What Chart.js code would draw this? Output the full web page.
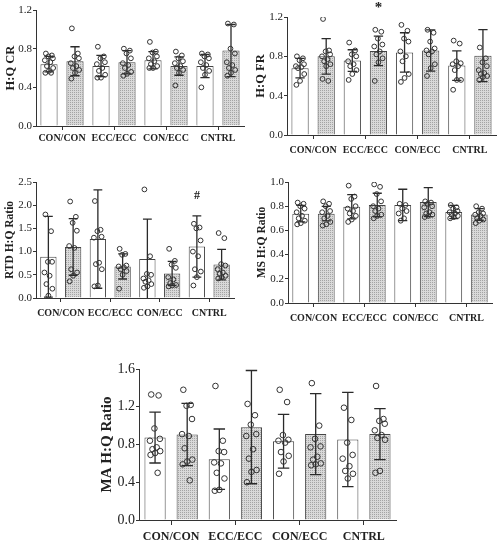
<!DOCTYPE html>
<html>
<head>
<meta charset="utf-8">
<script src="https://cdn.jsdelivr.net/npm/chart.js@4"></script>
<style>
  body { margin: 0; background: #fff; }
  .p { position: absolute; }
</style>
</head>
<body>
<div class="p" style="left:0;top:0;width:250px;height:150px"><canvas id="cr"></canvas></div>
<div class="p" style="left:250px;top:0;width:252px;height:160px"><canvas id="fr"></canvas></div>
<div class="p" style="left:0;top:150px;width:250px;height:175px"><canvas id="rtd"></canvas></div>
<div class="p" style="left:250px;top:150px;width:252px;height:180px"><canvas id="ms"></canvas></div>
<div class="p" style="left:90px;top:340px;width:312px;height:210px"><canvas id="ma"></canvas></div>
<script>
const groups = ['CON/CON', 'ECC/ECC', 'CON/ECC', 'CNTRL']

// bars in plot order: white, dotted, white, dotted ...
const crMean = [0.64, 0.67, 0.62, 0.66, 0.68, 0.62, 0.62, 0.78]
const crSd = [0.08, 0.15, 0.11, 0.12, 0.09, 0.095, 0.12, 0.27]
const crPts = [
    [0.75, 0.73, 0.72, 0.70, 0.68, 0.66, 0.62, 0.60, 0.57, 0.55, 0.55],
    [1.01, 0.75, 0.72, 0.70, 0.65, 0.62, 0.60, 0.58, 0.55, 0.49],
    [0.82, 0.72, 0.70, 0.66, 0.64, 0.60, 0.57, 0.53, 0.50, 0.50],
    [0.80, 0.78, 0.75, 0.70, 0.65, 0.63, 0.60, 0.56, 0.54, 0.52],
    [0.87, 0.77, 0.76, 0.72, 0.70, 0.67, 0.64, 0.62, 0.60, 0.60],
    [0.77, 0.73, 0.70, 0.67, 0.65, 0.62, 0.60, 0.58, 0.55, 0.42],
    [0.75, 0.74, 0.72, 0.70, 0.66, 0.63, 0.60, 0.57, 0.53, 0.40],
    [1.06, 1.05, 0.80, 0.75, 0.66, 0.63, 0.60, 0.58, 0.55, 0.52],
]

const frMean = [0.68, 0.80, 0.757, 0.855, 0.84, 0.86, 0.706, 0.807]
const frSd = [0.10, 0.18, 0.11, 0.15, 0.20, 0.21, 0.15, 0.265]
const frPts = [
    [0.80, 0.78, 0.76, 0.72, 0.70, 0.69, 0.68, 0.62, 0.55, 0.51],
    [1.18, 0.86, 0.85, 0.82, 0.80, 0.77, 0.75, 0.72, 0.70, 0.57, 0.55],
    [0.94, 0.86, 0.82, 0.80, 0.75, 0.72, 0.70, 0.66, 0.62, 0.56],
    [1.07, 1.05, 0.98, 0.92, 0.90, 0.85, 0.82, 0.78, 0.74, 0.55],
    [1.12, 1.06, 0.98, 0.95, 0.85, 0.80, 0.75, 0.62, 0.58, 0.54],
    [1.07, 1.04, 0.95, 0.88, 0.86, 0.85, 0.82, 0.72, 0.68, 0.60],
    [0.96, 0.93, 0.75, 0.73, 0.72, 0.70, 0.66, 0.56, 0.56, 0.46],
    [0.89, 0.78, 0.74, 0.70, 0.66, 0.63, 0.62, 0.60, 0.59, 0.56],
]

const rtdMean = [0.89, 1.10, 1.27, 0.68, 0.84, 0.53, 1.11, 0.72]
const rtdSd = [0.87, 0.61, 1.06, 0.27, 0.86, 0.26, 0.66, 0.33]
const rtdPts = [
    [1.80, 1.44, 0.78, 0.78, 0.55, 0.48, 0.30, 0.20, 0.05],
    [2.08, 1.75, 1.62, 1.45, 1.12, 1.08, 0.62, 0.55, 0.48, 0.36],
    [2.09, 1.47, 1.44, 1.32, 1.30, 0.76, 0.73, 0.62, 0.27, 0.25],
    [1.06, 0.95, 0.93, 0.70, 0.68, 0.66, 0.62, 0.58, 0.50, 0.20],
    [2.34, 0.90, 0.52, 0.50, 0.42, 0.38, 0.35, 0.30, 0.25, 0.22],
    [1.06, 0.80, 0.72, 0.65, 0.45, 0.40, 0.32, 0.28, 0.27, 0.25],
    [1.60, 1.52, 1.50, 1.24, 1.00, 0.90, 0.62, 0.57, 0.45, 0.27],
    [1.40, 1.29, 0.73, 0.70, 0.62, 0.55, 0.52, 0.48, 0.45, 0.42],
]

const msMean = [0.738, 0.738, 0.795, 0.81, 0.81, 0.834, 0.752, 0.732]
const msSd = [0.068, 0.06, 0.10, 0.097, 0.13, 0.12, 0.054, 0.048]
const msPts = [
    [0.83, 0.82, 0.80, 0.78, 0.75, 0.72, 0.70, 0.68, 0.66, 0.65],
    [0.84, 0.82, 0.80, 0.76, 0.75, 0.72, 0.70, 0.67, 0.65, 0.64],
    [0.97, 0.88, 0.86, 0.80, 0.78, 0.76, 0.74, 0.72, 0.69, 0.67],
    [0.98, 0.96, 0.90, 0.84, 0.80, 0.78, 0.76, 0.73, 0.72, 0.70],
    [0.82, 0.81, 0.78, 0.76, 0.74, 0.70, 0.68],
    [0.84, 0.83, 0.82, 0.80, 0.79, 0.75, 0.74, 0.73, 0.72, 0.71],
    [0.81, 0.79, 0.78, 0.76, 0.75, 0.74, 0.73, 0.72, 0.71, 0.70],
    [0.80, 0.78, 0.75, 0.74, 0.73, 0.72, 0.70, 0.69, 0.68, 0.66],
]

const maMean = [0.874, 0.906, 0.644, 0.984, 0.835, 0.91, 0.853, 0.91]
const maSd = [0.27, 0.33, 0.32, 0.60, 0.285, 0.43, 0.50, 0.27]
const maPts = [
    [1.33, 1.32, 0.97, 0.86, 0.84, 0.77, 0.75, 0.73, 0.71, 0.69, 0.50],
    [1.38, 1.22, 1.21, 1.07, 0.91, 0.89, 0.76, 0.64, 0.62, 0.59, 0.42],
    [1.42, 0.84, 0.73, 0.72, 0.61, 0.60, 0.50, 0.44, 0.32, 0.31],
    [1.23, 1.11, 1.01, 0.91, 0.89, 0.75, 0.65, 0.53, 0.51, 0.40],
    [1.38, 1.25, 0.90, 0.85, 0.84, 0.82, 0.72, 0.68, 0.62, 0.49],
    [1.45, 1.00, 0.86, 0.78, 0.77, 0.67, 0.64, 0.60, 0.59, 0.58],
    [1.19, 1.06, 0.82, 0.69, 0.65, 0.57, 0.52, 0.49, 0.44],
    [1.42, 1.07, 1.05, 1.02, 0.95, 0.90, 0.87, 0.85, 0.52, 0.50],
]

// horizontal spread of the dots inside a bar (in bar-slot units)
const jitter = [-0.12, 0.11, -0.02, 0.15, -0.16, 0.05, -0.08, 0.16, 0.0, -0.14, 0.08]

const serif = 'Liberation Serif'
const ink = '#222'

function dots() {
    const c = document.createElement('canvas')
    c.width = 2; c.height = 2
    const g = c.getContext('2d')
    g.fillStyle = '#d9d9d9'; g.fillRect(0, 0, 2, 2)
    g.fillStyle = '#a4a4a4'; g.fillRect(0, 0, 1, 1)
    return g.createPattern(c, 'repeat')
}

const errorBars = {
    id: 'errorBars',
    afterDatasetDraw(chart, args) {
        const ds = chart.data.datasets[args.index]
        if (!ds.sd) return
        const y = chart.scales.y, ctx = chart.ctx
        ctx.save()
        ctx.strokeStyle = '#2a2a2a'
        ctx.lineWidth = 1.3
        args.meta.data.forEach((bar, i) => {
            const m = ds.mean[i], s = ds.sd[i]
            const top = y.getPixelForValue(m + s)
            const bot = y.getPixelForValue(Math.max(m - s, y.min))
            const w = bar.width * 0.27
            ctx.beginPath()
            ctx.moveTo(bar.x, top); ctx.lineTo(bar.x, bot)
            ctx.moveTo(bar.x - w, top); ctx.lineTo(bar.x + w, top)
            if (m - s > y.min) { ctx.moveTo(bar.x - w, bot); ctx.lineTo(bar.x + w, bot) }
            ctx.stroke()
        })
        ctx.restore()
    }
}

const marks = {
    id: 'marks',
    afterDraw(chart) {
        const m = chart.options.plugins.marks
        if (!m || !m.text) return
        const bar = chart.getDatasetMeta(0).data[m.bar]
        const ctx = chart.ctx
        ctx.save()
        ctx.font = 'bold ' + m.size + 'px ' + serif
        ctx.fillStyle = ink
        ctx.textAlign = 'center'
        ctx.textBaseline = 'middle'
        ctx.fillText(m.text, bar.x, chart.scales.y.getPixelForValue(m.value))
        ctx.restore()
    }
}

function panel(id, c) {
    const pattern = dots()
    const pts = []
    c.pts.forEach((list, b) => list.forEach((v, k) => {
        pts.push({ x: b + 0.5 + jitter[k % jitter.length], y: v })
    }))
    new Chart(document.getElementById(id), {
        type: 'bar',
        data: {
            labels: groups,
            datasets: [
                { data: c.mean.map((v, i) => ({ x: i + 0.5, y: v })), mean: c.mean, sd: c.sd,
                  backgroundColor: c.mean.map((v, i) => i % 2 ? pattern : '#fff'),
                  borderColor: '#444', borderWidth: 1, grouped: false,
                  categoryPercentage: 1, barPercentage: 0.66, order: 1 },
                { type: 'scatter', data: pts, order: 0,
                  pointRadius: c.r, pointBorderWidth: 1, pointBorderColor: '#333',
                  pointBackgroundColor: 'rgba(0,0,0,0)' },
            ]
        },
        options: {
            responsive: true,
            maintainAspectRatio: false,
            animation: false,
            layout: { padding: { top: c.top, right: c.right, left: 0, bottom: 0 } },
            plugins: { legend: { display: false }, tooltip: { enabled: false }, marks: c.mark || {} },
            scales: {
                x: { type: 'linear', min: 0, max: 8, offset: false, display: false, ticks: { stepSize: 1 } },
                xg: {
                    type: 'category',
                    position: 'bottom',
                    offset: true,
                    grid: { offset: false, drawOnChartArea: false, tickLength: c.xTick, color: '#333' },
                    border: { color: '#333', width: 1 },
                    ticks: { font: { family: serif, weight: 'bold', size: c.catSize }, color: ink,
                             padding: c.xPad, maxRotation: 0, autoSkip: false },
                    afterFit: s => { s.height = c.xh }
                },
                y: {
                    min: 0, max: c.max,
                    grid: { drawOnChartArea: false, tickLength: 3, color: '#333' },
                    border: { color: '#333', width: 1 },
                    ticks: { stepSize: c.step, callback: v => v.toFixed(1),
                             font: { family: serif, size: c.tickSize }, color: ink, padding: 1 },
                    title: { display: true, text: c.title, color: ink,
                             font: { family: serif, weight: 'bold', size: c.titleSize },
                             padding: { top: c.titlePad, bottom: 0 } },
                    afterFit: s => { s.width = c.yw }
                }
            }
        },
        plugins: [errorBars, marks]
    })
}

panel('cr', { mean: crMean, sd: crSd, pts: crPts, max: 1.2, step: 0.4, title: 'H:Q CR',
    top: 10, right: 6, yw: 36, xh: 24, xTick: 4, xPad: 2, r: 2.4,
    catSize: 10, tickSize: 11, titleSize: 12.5, titlePad: 3 })

panel('fr', { mean: frMean, sd: frSd, pts: frPts, max: 1.2, step: 0.4, title: 'H:Q FR',
    top: 17, right: 6, yw: 37, xh: 25, xTick: 4, xPad: 5, r: 2.4,
    catSize: 10, tickSize: 11, titleSize: 12.5, titlePad: 3,
    mark: { text: '*', bar: 3, value: 1.29, size: 15 } })

panel('rtd', { mean: rtdMean, sd: rtdSd, pts: rtdPts, max: 2.5, step: 0.5, title: 'RTD H:Q Ratio',
    top: 32, right: 16, yw: 36, xh: 27, xTick: 4, xPad: 5, r: 2.4,
    catSize: 10, tickSize: 11, titleSize: 11.5, titlePad: 3,
    mark: { text: '#', bar: 6, value: 2.21, size: 12 } })

panel('ms', { mean: msMean, sd: msSd, pts: msPts, max: 1.0, step: 0.2, title: 'MS H:Q Ratio',
    top: 32, right: 10, yw: 38, xh: 27, xTick: 4, xPad: 5, r: 2.4,
    catSize: 10, tickSize: 11, titleSize: 11.5, titlePad: 5 })

panel('ma', { mean: maMean, sd: maSd, pts: maPts, max: 1.6, step: 0.4, title: 'MA H:Q Ratio',
    top: 29, right: 6, yw: 49, xh: 30, xTick: 5, xPad: 5, r: 2.8,
    catSize: 12, tickSize: 14, titleSize: 15, titlePad: 8 })
</script>
</body>
</html>
